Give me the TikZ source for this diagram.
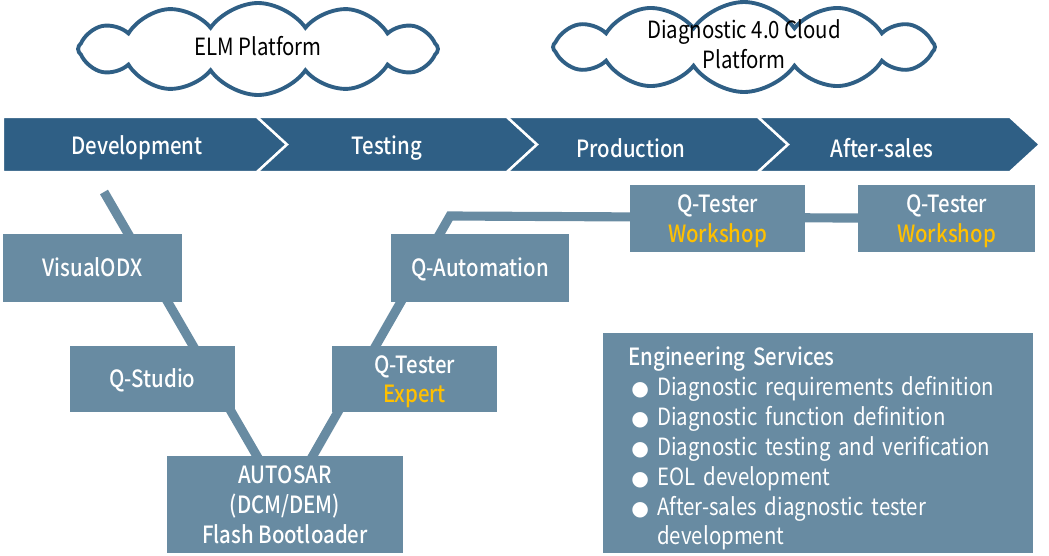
\documentclass[tikz,border=0pt]{standalone}
\usepackage{fontspec}
\setmainfont{Noto Sans CJK KR}[FakeStretch=0.86, BoldFont={Noto Sans CJK KR Medium}]
\newfontfamily\symfont{DejaVu Sans}
\usetikzlibrary{shapes.symbols, backgrounds}

\definecolor{bandblue}{HTML}{2F5F85}
\definecolor{boxblue}{HTML}{688BA2}
\definecolor{hiyellow}{HTML}{FFC000}

\newcommand{\bul}{\makebox[0.58cm][l]{\hspace{0.06cm}{\symfont\fontsize{11.5}{11.5}\selectfont ●}}}
\newcommand{\cloudtext}[1]{\raisebox{-0.6em}{\smash{\begin{tabular}{@{}c@{}}#1\end{tabular}}}}
\newcommand{\boxtext}[1]{\raisebox{-0.06cm}[\height][\depth]{\begin{tabular}{@{}c@{}}#1\end{tabular}}}

\begin{document}
\begin{tikzpicture}[
      x=0.02cm, y=-0.02cm, font=\fontsize{13.5}{17}\selectfont,
      cloudy/.style={cloud, cloud puffs=12, cloud puff arc=110, cloud ignores aspect, draw=bandblue, line width=2.2pt, fill=white, inner sep=0pt},
      phase/.style={fill=bandblue, draw=white, line width=1.4pt},
      phasetxt/.style={text=white, font=\fontsize{13.5}{17}\selectfont\bfseries},
      box/.style={fill=boxblue, text=white, align=center, inner sep=0pt, font=\fontsize{13.5}{17}\selectfont\bfseries},
      link/.style={draw=boxblue, line width=5.2pt},
    ]
      \useasboundingbox (0,0) rectangle (1049,555);

      % platforms
      \node[cloudy, minimum width=7.2cm, minimum height=1.84cm] (elm) at (258,49) {\cloudtext{ELM Platform}};
      \node[cloudy, minimum width=7.64cm, minimum height=1.8cm] (diag) at (744,47) {\cloudtext{Diagnostic 4.0 Cloud\\Platform}};

      % phases
      \foreach \s/\e/\n/\cx/\lbl/\nm in {3/257/0/137/Development/dev, 257/507/30/387/Testing/test,
                                          507/758/30/631/Production/prod, 758/1010/30/882/After-sales/after} {
        \fill[phase] (\s,117) -- (\e,117) -- (\e+30,144.5) -- (\e,172) -- (\s,172) -- (\s+\n,144.5) -- cycle;
        \node[phasetxt] (\nm) at (\cx,148) {\lbl};
      }

      % tools
      \node[box, minimum width=3.58cm, minimum height=1.36cm] (visual) at (92.5,268) {\boxtext{VisualODX}};
      \node[box, minimum width=3.3cm, minimum height=1.32cm] (studio) at (152.5,379) {\boxtext{Q-Studio}};
      \node[box, minimum width=4.72cm, minimum height=1.94cm] (autosar) at (285,504.5) {\boxtext{AUTOSAR\\(DCM/DEM)\\Flash Bootloader}};
      \node[box, minimum width=3.3cm, minimum height=1.32cm] (expert) at (414.5,379) {\boxtext{Q-Tester\\\textcolor{hiyellow}{Expert}}};
      \node[box, minimum width=3.56cm, minimum height=1.36cm] (qauto) at (480,268) {\boxtext{Q-Automation}};
      \node[box, minimum width=3.5cm, minimum height=1.34cm] (ws1) at (717.5,218.5) {\boxtext{Q-Tester\\\textcolor{hiyellow}{Workshop}}};
      \node[box, minimum width=3.54cm, minimum height=1.34cm] (ws2) at (946.5,218.5) {\boxtext{Q-Tester\\\textcolor{hiyellow}{Workshop}}};

      \node[box, anchor=north west, minimum width=8.6cm, minimum height=4.4cm, inner xsep=0.5cm,
            text width=7.6cm, align=left, font=\fontsize{13.5}{17}\selectfont] (eng) at (603,333) {%
        \raisebox{-0.12cm}[\height][\depth]{\begin{tabular}{@{}l@{}l@{}}
          \multicolumn{2}{@{}l}{\bfseries Engineering Services}\\
          \bul & Diagnostic requirements definition\\
          \bul & Diagnostic function definition\\
          \bul & Diagnostic testing and verification\\
          \bul & EOL development\\
          \bul & After-sales diagnostic tester\\
               & development
        \end{tabular}}};

      % V line
      \coordinate (vtop) at (104,192);
      \coordinate (vturn) at (450,216);
      \begin{scope}[on background layer]
        \draw[link] (vtop) -- (autosar.center) -- (vturn) -- (ws2.center);
      \end{scope}
    \end{tikzpicture}
\end{document}
